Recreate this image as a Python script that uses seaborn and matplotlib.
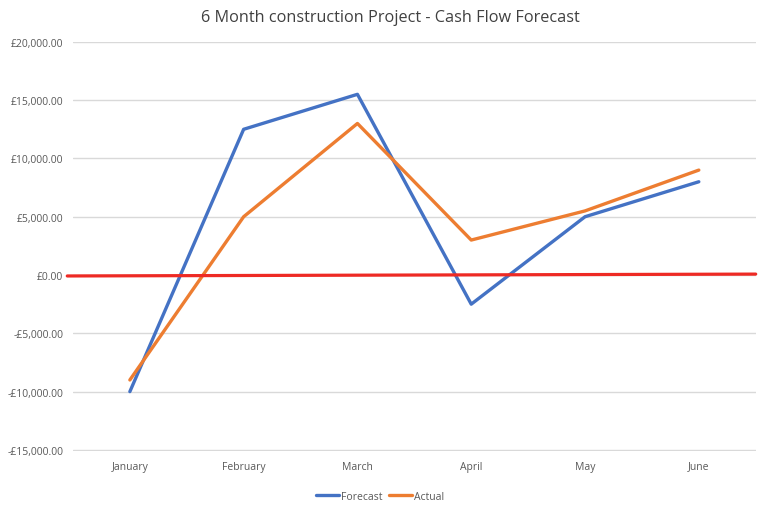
import numpy as np
import pandas as pd
import seaborn as sns
import matplotlib.pyplot as plt
from matplotlib.ticker import FuncFormatter

months = ["January", "February", "March", "April", "May", "June"]
forecast = [-10000, 12500, 15500, -2500, 5000, 8000]
actual = [-9000, 5000, 13000, 3000, 5500, 9000]
# break-even line, drawn edge to edge of the plot area
zero_x = [-0.55, 5.5]
zero_y = [-80, 80]

df = pd.DataFrame({
    "x": list(range(len(months))) * 2,
    "value": forecast + actual,
    "series": ["Forecast"] * len(months) + ["Actual"] * len(months),
})

sns.set_theme(style="white")
plt.rcParams["font.family"] = ["Open Sans", "DejaVu Sans"]

fig = plt.figure(figsize=(7.68, 5.1), dpi=100)
ax = fig.add_axes([0.095, 0.114, 0.889, 0.802])

ax.plot(zero_x, zero_y, color="#EE2A24", lw=2.3, zorder=3, clip_on=False)
sns.lineplot(data=df, x="x", y="value", hue="series",
             palette={"Forecast": "#4472C4", "Actual": "#ED7D31"},
             linewidth=2.4, ax=ax, zorder=2)

ax.set_xlim(-0.5, 5.5)
ax.set_ylim(-15080, 20000)
ax.set_yticks(np.arange(-15000, 20001, 5000))
ax.yaxis.set_major_formatter(FuncFormatter(
    lambda v, p: ("-£{:,.2f}".format(-v) if v < 0 else "£{:,.2f}".format(v))))
ax.set_xticks(range(len(months)))
ax.set_xticklabels(months)
ax.grid(axis="y", color="#d9d9d9", lw=1)
ax.set_axisbelow(True)
for s in ax.spines.values():
    s.set_visible(False)
ax.tick_params(axis="both", length=0, labelsize=7.5, colors="#595959", pad=7)
ax.set_xlabel("")
ax.set_ylabel("")
ax.set_title("6 Month construction Project - Cash Flow Forecast",
             fontsize=11.7, color="#404040", pad=15, x=0.465)

ax.legend(loc="upper center", bbox_to_anchor=(0.45, -0.075), ncol=2,
          frameon=False, fontsize=7.5, handlelength=2.2, columnspacing=0.6,
          handletextpad=0.2, labelcolor="#595959")

fig.savefig("out.png", dpi=100)
